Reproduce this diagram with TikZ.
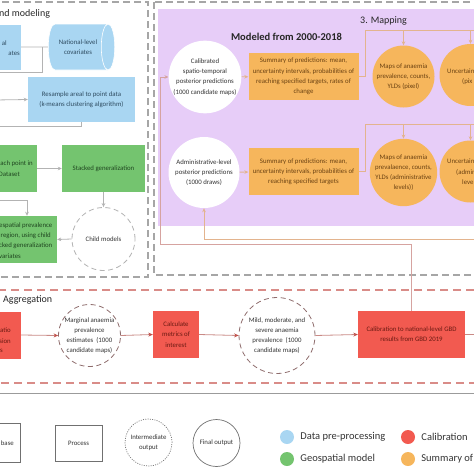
\documentclass[tikz,border=0pt]{standalone}
\usepackage{fontspec}
\setmainfont{Carlito}
\usetikzlibrary{shapes.geometric,arrows.meta}

\definecolor{prepblue}{HTML}{A9D6F2}
\definecolor{prepink}{HTML}{2E4B60}
\definecolor{geogreen}{HTML}{74C46F}
\definecolor{geoink}{HTML}{1F4620}
\definecolor{calred}{HTML}{F25A50}
\definecolor{calink}{HTML}{6A1A12}
\definecolor{sumorange}{HTML}{F6B65C}
\definecolor{sumink}{HTML}{6B4212}
\definecolor{mappurple}{HTML}{E7CDF8}
\definecolor{conngray}{HTML}{B3B3B3}
\definecolor{panelgray}{HTML}{A6A6A6}
\definecolor{aggpink}{HTML}{D98C88}
\definecolor{aggline}{HTML}{C98A86}
\definecolor{aggtip}{HTML}{C0504A}
\definecolor{circdash}{HTML}{8E6C6C}
\definecolor{mapline}{HTML}{E3B48E}
\definecolor{backline}{HTML}{D6A3A0}
\definecolor{legink}{HTML}{707070}

\begin{document}
\begin{tikzpicture}[x=1pt,y=-1pt,
	every node/.style={inner sep=0pt, align=center, text=black!80,
		font=\fontsize{6.8}{10.2}\selectfont},
	paneldash/.style={panelgray, line width=1.1pt, dash pattern=on 7pt off 4pt},
	aggdash/.style={aggpink, line width=1.1pt, dash pattern=on 8pt off 5pt},
	conn/.style={conngray, line width=0.8pt},
	arr/.style={-{Stealth[length=4pt,width=3.6pt]}},
	maplink/.style={mapline, line width=0.8pt},
	backlink/.style={backline, line width=0.8pt},
	agglink/.style={aggline, line width=0.8pt, -{Stealth[length=4.5pt,width=4pt,color=aggtip]}},
	dbase/.style={cylinder, aspect=0.9, draw=white, line width=0.6pt, fill=prepblue, text=prepink,
		minimum width=46pt, text width=46pt},
	prepbox/.style={fill=prepblue, text=prepink, minimum width=107pt, minimum height=45pt},
	geobox/.style={fill=geogreen, text=geoink, minimum height=47pt},
	calbox/.style={fill=calred, text=calink, minimum height=47pt},
	sumbox/.style={fill=sumorange, text=sumink, minimum width=110pt, minimum height=47pt},
	outcirc/.style={circle, fill=white, minimum size=71pt},
	mapcirc/.style={circle, fill=sumorange, text=sumink, minimum size=62pt},
	midcirc/.style={circle, draw=circdash, line width=0.8pt, dash pattern=on 5pt off 3.5pt, fill=white},
	title/.style={font=\fontsize{10}{12}\selectfont, text=black!85},
	legtext/.style={font=\fontsize{10.5}{12}\selectfont, text=black!80, anchor=west},
	legshape/.style={draw=legink, line width=0.7pt, fill=white, font=\fontsize{6.8}{9.8}\selectfont},
]
	% canvas
	\useasboundingbox (0,0) rectangle (474,474);
	\clip (0,0) rectangle (474,474);

	% panels
	\draw[paneldash] (-10,2) rectangle (148,277);
	\draw[paneldash] (154,2) rectangle (490,275);
	\fill[mappurple] (158,9) rectangle (490,226);
	\draw[aggdash] (-10,290) rectangle (490,383);
	\draw[legink!70, line width=0.7pt] (-10,393) -- (490,393);

	% titles
	\node[title, anchor=west] (geotitle) at (-1,14) {nd modeling};
	\node[title, font=\fontsize{10.5}{12}\selectfont\bfseries] (yeartitle) at (286.5,37) {Modeled from 2000-2018};
	\node[title, anchor=west] (maptitle) at (360,21) {3. Mapping};
	\node[title, anchor=west] (aggtitle) at (3,300) {Aggregation};

	% pre-processing
	\node[dbase] (subcov) at (-2.5,47) {};
	\node[anchor=east, text=prepink] (subcovA) at (7,43) {al};
	\node[anchor=east, text=prepink] (subcovB) at (20,53) {ates};
	\node[dbase] (natcov) at (78,47) {National-level\\covariates};
	\node[prepbox] (resample) at (81.5,99.5) {Resample areal to point data\\(k-means clustering algorithm)};
	\coordinate (covjoin) at (42,47);
	\coordinate (covout) at (-5,72);
	\coordinate (pointin) at (-5,100);
	\coordinate (pointout) at (-5,126);
	\draw[conn] (subcov.east) -- (natcov.west);
	\draw[conn] (covjoin) |- (covout);
	\draw[conn, arr] (pointin) -- (resample.west);
	\draw[conn] (resample.south) |- (pointout);

	% geospatial model
	\node[geobox, minimum width=77pt] (pointfit) at (-1.5,168.5) {};
	\node[anchor=east, text=geoink] (pointfitA) at (33,164) {ach point in};
	\node[anchor=east, text=geoink] (pointfitB) at (20,174) {Dataset};
	\node[geobox, minimum width=83pt] (stacked) at (103.5,168.5) {Stacked generalization};
	\node[midcirc, draw=conngray, minimum size=63pt] (child) at (103.5,239) {Child models};
	\node[geobox, minimum width=102pt] (geofit) at (6,239.5) {};
	\node[anchor=west, text=geoink, align=left] (geofitA) at (-1,240.5) {espatial prevalence\\ \ region, using child\\cked generalization\\variates};
	\coordinate (childin) at (-5,200);
	\coordinate (childbend) at (27,200);
	\draw[conn, arr] (pointfit.east) -- (stacked.west);
	\draw[conn, arr] (stacked.south) -- (child.north);
	\draw[conn, arr] (child.west) -- (geofit.east);
	\draw[conn, arr] (childin) -| (childbend |- geofit.north);

	% mapping
	\node[outcirc] (calpost) at (205,77) {Calibrated\\spatio-temporal\\posterior predictions\\(1000 candidate maps)};
	\node[sumbox] (sumcal) at (303.5,76.5) {Summary of predictions: mean,\\uncertainty intervals, probabilities of\\reaching specified targets, rates of\\change};
	\node[outcirc] (admpost) at (204,172.5) {Administrative-level\\posterior predictions\\(1000 draws)};
	\node[sumbox] (sumadm) at (303.5,171.5) {Summary of predictions: mean,\\uncertainty intervals, probabilities of\\reaching specified targets};
	\node[mapcirc] (pixmap) at (403.5,76.5) {Maps of anaemia\\prevalence, counts,\\YLDs (pixel)};
	\node[mapcirc] (pixunc) at (470.5,75) {};
	\node[anchor=west, text=sumink] (pixuncA) at (447,71) {Uncertain};
	\node[anchor=west, text=sumink] (pixuncB) at (462,82) {(pix};
	\node[mapcirc] (admmap) at (403.5,172.5) {Maps of anaemia\\prevalaence, counts,\\YLDs (administrative\\levels))};
	\node[mapcirc] (admunc) at (470.5,171.5) {};
	\node[anchor=west, text=sumink] (admuncA) at (447,161) {Uncertain};
	\node[anchor=west, text=sumink] (admuncB) at (456,172) {(admini};
	\node[anchor=west, text=sumink] (admuncC) at (462,182) {leve};
	\coordinate (pixbus) at (365,30);
	\coordinate (pixbusend) at (480,30);
	\coordinate (admbus) at (365,124);
	\coordinate (admbusend) at (480,124);
	\draw[maplink, arr] (calpost) -- (sumcal);
	\draw[maplink, arr] (admpost) -- (sumadm);
	\draw[maplink] (sumcal.east) -| (pixbus) -- (pixbusend);
	\draw[maplink, arr] (pixmap.north |- pixbus) -- (pixmap.north);
	\draw[maplink, arr] (pixunc.north |- pixbus) -- (pixunc.north);
	\draw[maplink] (sumadm.east) -| (admbus) -- (admbusend);
	\draw[maplink, arr] (admmap.north |- admbus) -- (admmap.north);
	\draw[maplink, arr] (admunc.north |- admbus) -- (admunc.north);

	% aggregation
	\node[calbox, minimum width=92pt] (spatcal) at (-25,335) {};
	\node[anchor=east, text=calink] (spatcalA) at (11,330) {atio};
	\node[anchor=east, text=calink] (spatcalB) at (11,341) {sion};
	\node[anchor=east, text=calink] (spatcalC) at (3,351) {s};
	\node[midcirc, minimum size=62pt] (margprev) at (89.5,335.5) {Marginal anaemia\\prevalence\\estimates~ (1000\\candidate maps)};
	\node[calbox, minimum width=46pt] (metrics) at (176,334.5) {Calculate\\metrics of\\interest};
	\node[midcirc, minimum size=76pt] (sevprev) at (277,335.5) {Mild, moderate, and\\severe anaemia\\prevalence~ (1000\\candidate maps)};
	\node[calbox, minimum width=107pt] (gbdcal) at (411.5,334.5) {Calibration to national-level GBD\\results from GBD 2019};
	\coordinate (gbdout) at (480,334.5);
	\draw[agglink] (spatcal.east) -- (margprev.west);
	\draw[agglink] (margprev.east) -- (metrics.west);
	\draw[agglink] (metrics.east) -- (sevprev.west);
	\draw[agglink] (sevprev.east) -- (gbdcal.west);
	\draw[aggline, line width=0.8pt] (gbdcal.east) -- (gbdout);

	% calibrated results back to mapping
	\coordinate (feedcorner) at (160,244);
	\coordinate (feedin) at (480,239);
	\draw[backlink, arr] (gbdcal.north) |- (feedcorner) |- (calpost.west);
	\draw[maplink, arr] (feedin) -| (admpost.south);

	% legend
	\node[legshape, cylinder, aspect=0.9, minimum width=39pt, text width=30pt] (legdb) at (5,442.5) {};
	\node[anchor=east] (legdbA) at (14,443) {base};
	\node[legshape, minimum width=47pt, minimum height=36pt] (legproc) at (78.5,443) {Process};
	\node[legshape, circle, dash pattern=on 1pt off 1.3pt, minimum size=47pt] (legmid) at (148.5,442.5) {Intermediate\\output};
	\node[legshape, circle, minimum size=47pt] (legfinal) at (216.5,443) {Final output};
	\foreach \col/\px/\py/\lbl [count=\i] in {prepblue/287/437/Data pre-processing, geogreen/287/459/Geospatial model, calred/408/437/Calibration, sumorange/408/459/Summary of}
	{
		\node[circle, fill=\col, minimum size=14pt] (legdot\i) at (\px,\py) {};
		\node[legtext] (leglbl\i) at ([xshift=6pt]legdot\i.east) {\lbl};
	}
\end{tikzpicture}
\end{document}
